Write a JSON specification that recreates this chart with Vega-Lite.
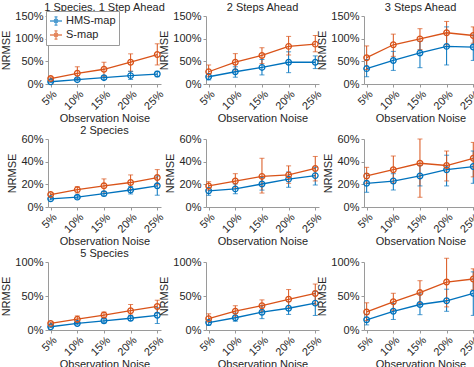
{
"$schema":"https://vega.github.io/schema/vega-lite/v6.json",
"padding":{"left":0,"top":2,"right":0,"bottom":0},
"bounds":"flush",
"spacing":{"row":55,"column":45},
"columns":3,
"data":{"values":[
{"p":"a","s":"HMS-map","n":5,"m":5,"lo":3.5,"hi":6.5},
{"p":"a","s":"HMS-map","n":10,"m":9.6,"lo":7,"hi":12.5},
{"p":"a","s":"HMS-map","n":15,"m":14,"lo":10,"hi":18},
{"p":"a","s":"HMS-map","n":20,"m":18.5,"lo":10,"hi":28},
{"p":"a","s":"HMS-map","n":25,"m":22,"lo":16,"hi":28},
{"p":"a","s":"S-map","n":5,"m":12,"lo":9,"hi":15},
{"p":"a","s":"S-map","n":10,"m":23.6,"lo":10,"hi":38},
{"p":"a","s":"S-map","n":15,"m":32.5,"lo":17,"hi":48},
{"p":"a","s":"S-map","n":20,"m":48,"lo":28,"hi":66.5},
{"p":"a","s":"S-map","n":25,"m":65,"lo":42,"hi":88.7},
{"p":"b","s":"HMS-map","n":5,"m":16,"lo":9,"hi":23},
{"p":"b","s":"HMS-map","n":10,"m":27,"lo":15,"hi":38},
{"p":"b","s":"HMS-map","n":15,"m":36.6,"lo":20,"hi":54},
{"p":"b","s":"HMS-map","n":20,"m":48,"lo":25,"hi":71},
{"p":"b","s":"HMS-map","n":25,"m":48,"lo":34,"hi":62},
{"p":"b","s":"S-map","n":5,"m":27,"lo":16,"hi":42},
{"p":"b","s":"S-map","n":10,"m":48,"lo":31,"hi":67},
{"p":"b","s":"S-map","n":15,"m":63,"lo":45,"hi":80},
{"p":"b","s":"S-map","n":20,"m":83,"lo":64,"hi":105},
{"p":"b","s":"S-map","n":25,"m":88,"lo":71,"hi":107},
{"p":"c","s":"HMS-map","n":5,"m":34,"lo":16,"hi":54},
{"p":"c","s":"HMS-map","n":10,"m":52,"lo":30,"hi":72},
{"p":"c","s":"HMS-map","n":15,"m":68.5,"lo":36,"hi":94},
{"p":"c","s":"HMS-map","n":20,"m":83,"lo":42,"hi":126},
{"p":"c","s":"HMS-map","n":25,"m":81.5,"lo":52,"hi":108},
{"p":"c","s":"S-map","n":5,"m":58,"lo":32,"hi":84},
{"p":"c","s":"S-map","n":10,"m":86.5,"lo":61,"hi":110},
{"p":"c","s":"S-map","n":15,"m":99.5,"lo":76,"hi":122},
{"p":"c","s":"S-map","n":20,"m":113,"lo":86.5,"hi":138},
{"p":"c","s":"S-map","n":25,"m":107,"lo":90,"hi":126},
{"p":"d","s":"HMS-map","n":5,"m":7.2,"lo":6.2,"hi":8.2},
{"p":"d","s":"HMS-map","n":10,"m":8.7,"lo":7.2,"hi":10.2},
{"p":"d","s":"HMS-map","n":15,"m":11.8,"lo":9.8,"hi":13.8},
{"p":"d","s":"HMS-map","n":20,"m":15,"lo":11.5,"hi":18},
{"p":"d","s":"HMS-map","n":25,"m":18.7,"lo":10.4,"hi":27.4},
{"p":"d","s":"S-map","n":5,"m":11,"lo":9.5,"hi":12.5},
{"p":"d","s":"S-map","n":10,"m":15.3,"lo":12.4,"hi":18},
{"p":"d","s":"S-map","n":15,"m":18.7,"lo":13.3,"hi":24.8},
{"p":"d","s":"S-map","n":20,"m":21.6,"lo":15.3,"hi":28.3},
{"p":"d","s":"S-map","n":25,"m":26,"lo":19.6,"hi":33},
{"p":"e","s":"HMS-map","n":5,"m":14.3,"lo":10.3,"hi":17},
{"p":"e","s":"HMS-map","n":10,"m":16,"lo":11.7,"hi":20.3},
{"p":"e","s":"HMS-map","n":15,"m":20.3,"lo":14.9,"hi":26},
{"p":"e","s":"HMS-map","n":20,"m":24.6,"lo":17.4,"hi":30.9},
{"p":"e","s":"HMS-map","n":25,"m":27.7,"lo":19.4,"hi":35},
{"p":"e","s":"S-map","n":5,"m":18.6,"lo":14.9,"hi":22.3},
{"p":"e","s":"S-map","n":10,"m":22.9,"lo":16.6,"hi":29.4},
{"p":"e","s":"S-map","n":15,"m":27,"lo":12.3,"hi":43},
{"p":"e","s":"S-map","n":20,"m":28.3,"lo":20.9,"hi":36.3},
{"p":"e","s":"S-map","n":25,"m":34,"lo":23,"hi":44.6},
{"p":"f","s":"HMS-map","n":5,"m":20.9,"lo":13,"hi":29.4},
{"p":"f","s":"HMS-map","n":10,"m":22.9,"lo":15,"hi":29.4},
{"p":"f","s":"HMS-map","n":15,"m":27.4,"lo":18.6,"hi":36.6},
{"p":"f","s":"HMS-map","n":20,"m":32.9,"lo":18.6,"hi":45.7},
{"p":"f","s":"HMS-map","n":25,"m":35.7,"lo":20.9,"hi":49.4},
{"p":"f","s":"S-map","n":5,"m":27.4,"lo":21,"hi":35},
{"p":"f","s":"S-map","n":10,"m":32.9,"lo":21,"hi":45},
{"p":"f","s":"S-map","n":15,"m":38.6,"lo":8.6,"hi":60},
{"p":"f","s":"S-map","n":20,"m":36.6,"lo":23,"hi":49.4},
{"p":"f","s":"S-map","n":25,"m":43,"lo":26.6,"hi":57},
{"p":"g","s":"HMS-map","n":5,"m":4.8,"lo":3.8,"hi":5.8},
{"p":"g","s":"HMS-map","n":10,"m":9.6,"lo":7.6,"hi":11.6},
{"p":"g","s":"HMS-map","n":15,"m":13.5,"lo":10.5,"hi":16.5},
{"p":"g","s":"HMS-map","n":20,"m":17.3,"lo":13.8,"hi":20.8},
{"p":"g","s":"HMS-map","n":25,"m":21.6,"lo":9.6,"hi":32.7},
{"p":"g","s":"S-map","n":5,"m":9.6,"lo":7.6,"hi":11.6},
{"p":"g","s":"S-map","n":10,"m":15.9,"lo":11,"hi":20.7},
{"p":"g","s":"S-map","n":15,"m":22,"lo":18.3,"hi":26.4},
{"p":"g","s":"S-map","n":20,"m":28.4,"lo":22,"hi":37.5},
{"p":"g","s":"S-map","n":25,"m":34.6,"lo":25.5,"hi":43.8},
{"p":"h","s":"HMS-map","n":5,"m":11,"lo":7.1,"hi":14.3},
{"p":"h","s":"HMS-map","n":10,"m":18,"lo":12.9,"hi":24.8},
{"p":"h","s":"HMS-map","n":15,"m":26.2,"lo":16.7,"hi":35.7},
{"p":"h","s":"HMS-map","n":20,"m":32,"lo":22.9,"hi":41.9},
{"p":"h","s":"HMS-map","n":25,"m":39.5,"lo":21.4,"hi":57},
{"p":"h","s":"S-map","n":5,"m":16.7,"lo":11.9,"hi":23.8},
{"p":"h","s":"S-map","n":10,"m":27.6,"lo":19,"hi":35.7},
{"p":"h","s":"S-map","n":15,"m":35.7,"lo":27.6,"hi":44.3},
{"p":"h","s":"S-map","n":20,"m":45.2,"lo":31.9,"hi":59.5},
{"p":"h","s":"S-map","n":25,"m":53.8,"lo":38,"hi":67.6},
{"p":"i","s":"HMS-map","n":5,"m":15,"lo":7.5,"hi":23},
{"p":"i","s":"HMS-map","n":10,"m":27.5,"lo":15.5,"hi":39},
{"p":"i","s":"HMS-map","n":15,"m":37.5,"lo":22.5,"hi":53},
{"p":"i","s":"HMS-map","n":20,"m":43,"lo":27.5,"hi":60},
{"p":"i","s":"HMS-map","n":25,"m":54,"lo":21.5,"hi":85.5},
{"p":"i","s":"S-map","n":5,"m":26.5,"lo":14,"hi":40},
{"p":"i","s":"S-map","n":10,"m":41.5,"lo":29,"hi":54},
{"p":"i","s":"S-map","n":15,"m":55,"lo":39,"hi":72.5},
{"p":"i","s":"S-map","n":20,"m":70.5,"lo":34,"hi":105.5},
{"p":"i","s":"S-map","n":25,"m":75,"lo":59,"hi":90}
]},
"concat":[
{"width":113,"height":68,"title":"1 Species, 1 Step Ahead","transform":[{"filter":"datum.p=='a'"}],
 "encoding":{"x":{"field":"n","type":"quantitative","scale":{"domain":[4.5,25.7]},"axis":{"values":[5,10,15,20,25],"labelExpr":"datum.value+'%'","labelAngle":-45,"title":"Observation Noise"}},
  "color":{"field":"s","type":"nominal","scale":{"domain":["HMS-map","S-map"],"range":["#0072BD","#D95319"]},"legend":{"orient":"none","legendX":-2,"legendY":-5,"title":null,"strokeColor":"#9a9a9a","fillColor":"white","padding":3,"rowPadding":0,"labelFontSize":11,"labelColor":"#262626","labelOffset":3,"symbolType":"M-1,0H-0.3M0.3,0H1M0,-0.7V-0.3M0,0.3V0.7M-0.25,-0.7H0.25M-0.25,0.7H0.25M0.3,0A0.3,0.3 0 1,1 -0.3,0A0.3,0.3 0 1,1 0.3,0","symbolSize":144,"symbolStrokeWidth":1.3}}},
 "layer":[
  {"mark":{"type":"rule","strokeWidth":1},"encoding":{"y":{"field":"lo","type":"quantitative","scale":{"domain":[0,150]},"axis":{"values":[0,50,100,150],"labelExpr":"datum.value+'%'"},"title":"NRMSE"},"y2":{"field":"hi"}}},
  {"mark":{"type":"tick","orient":"horizontal","size":5,"thickness":1},"encoding":{"y":{"field":"lo","type":"quantitative","scale":{"domain":[0,150]},"axis":{"values":[0,50,100,150],"labelExpr":"datum.value+'%'"},"title":"NRMSE"}}},
  {"mark":{"type":"tick","orient":"horizontal","size":5,"thickness":1},"encoding":{"y":{"field":"hi","type":"quantitative","scale":{"domain":[0,150]},"axis":{"values":[0,50,100,150],"labelExpr":"datum.value+'%'"},"title":"NRMSE"}}},
  {"mark":{"type":"line","strokeWidth":1.3},"encoding":{"y":{"field":"m","type":"quantitative","scale":{"domain":[0,150]},"axis":{"values":[0,50,100,150],"labelExpr":"datum.value+'%'"},"title":"NRMSE"}}},
  {"mark":{"type":"point","filled":false,"size":32,"strokeWidth":1.3,"opacity":1},"encoding":{"y":{"field":"m","type":"quantitative","scale":{"domain":[0,150]},"axis":{"values":[0,50,100,150],"labelExpr":"datum.value+'%'"},"title":"NRMSE"}}}
 ]},
{"width":113,"height":68,"title":"2 Steps Ahead","transform":[{"filter":"datum.p=='b'"}],
 "encoding":{"x":{"field":"n","type":"quantitative","scale":{"domain":[4.5,25.7]},"axis":{"values":[5,10,15,20,25],"labelExpr":"datum.value+'%'","labelAngle":-45,"title":"Observation Noise"}},
  "color":{"field":"s","type":"nominal"}},
 "layer":[
  {"mark":{"type":"rule","strokeWidth":1},"encoding":{"y":{"field":"lo","type":"quantitative","scale":{"domain":[0,150]},"axis":{"values":[0,50,100,150],"labelExpr":"datum.value+'%'"},"title":"NRMSE"},"y2":{"field":"hi"}}},
  {"mark":{"type":"tick","orient":"horizontal","size":5,"thickness":1},"encoding":{"y":{"field":"lo","type":"quantitative","scale":{"domain":[0,150]},"axis":{"values":[0,50,100,150],"labelExpr":"datum.value+'%'"},"title":"NRMSE"}}},
  {"mark":{"type":"tick","orient":"horizontal","size":5,"thickness":1},"encoding":{"y":{"field":"hi","type":"quantitative","scale":{"domain":[0,150]},"axis":{"values":[0,50,100,150],"labelExpr":"datum.value+'%'"},"title":"NRMSE"}}},
  {"mark":{"type":"line","strokeWidth":1.3},"encoding":{"y":{"field":"m","type":"quantitative","scale":{"domain":[0,150]},"axis":{"values":[0,50,100,150],"labelExpr":"datum.value+'%'"},"title":"NRMSE"}}},
  {"mark":{"type":"point","filled":false,"size":32,"strokeWidth":1.3,"opacity":1},"encoding":{"y":{"field":"m","type":"quantitative","scale":{"domain":[0,150]},"axis":{"values":[0,50,100,150],"labelExpr":"datum.value+'%'"},"title":"NRMSE"}}}
 ]},
{"width":113,"height":68,"title":"3 Steps Ahead","transform":[{"filter":"datum.p=='c'"}],
 "encoding":{"x":{"field":"n","type":"quantitative","scale":{"domain":[4.5,25.7]},"axis":{"values":[5,10,15,20,25],"labelExpr":"datum.value+'%'","labelAngle":-45,"title":"Observation Noise"}},
  "color":{"field":"s","type":"nominal"}},
 "layer":[
  {"mark":{"type":"rule","strokeWidth":1},"encoding":{"y":{"field":"lo","type":"quantitative","scale":{"domain":[0,150]},"axis":{"values":[0,50,100,150],"labelExpr":"datum.value+'%'"},"title":"NRMSE"},"y2":{"field":"hi"}}},
  {"mark":{"type":"tick","orient":"horizontal","size":5,"thickness":1},"encoding":{"y":{"field":"lo","type":"quantitative","scale":{"domain":[0,150]},"axis":{"values":[0,50,100,150],"labelExpr":"datum.value+'%'"},"title":"NRMSE"}}},
  {"mark":{"type":"tick","orient":"horizontal","size":5,"thickness":1},"encoding":{"y":{"field":"hi","type":"quantitative","scale":{"domain":[0,150]},"axis":{"values":[0,50,100,150],"labelExpr":"datum.value+'%'"},"title":"NRMSE"}}},
  {"mark":{"type":"line","strokeWidth":1.3},"encoding":{"y":{"field":"m","type":"quantitative","scale":{"domain":[0,150]},"axis":{"values":[0,50,100,150],"labelExpr":"datum.value+'%'"},"title":"NRMSE"}}},
  {"mark":{"type":"point","filled":false,"size":32,"strokeWidth":1.3,"opacity":1},"encoding":{"y":{"field":"m","type":"quantitative","scale":{"domain":[0,150]},"axis":{"values":[0,50,100,150],"labelExpr":"datum.value+'%'"},"title":"NRMSE"}}}
 ]},
{"width":113,"height":68,"title":"2 Species","transform":[{"filter":"datum.p=='d'"}],
 "encoding":{"x":{"field":"n","type":"quantitative","scale":{"domain":[4.5,25.7]},"axis":{"values":[5,10,15,20,25],"labelExpr":"datum.value+'%'","labelAngle":-45,"title":"Observation Noise"}},
  "color":{"field":"s","type":"nominal"}},
 "layer":[
  {"mark":{"type":"rule","strokeWidth":1},"encoding":{"y":{"field":"lo","type":"quantitative","scale":{"domain":[0,60]},"axis":{"values":[0,20,40,60],"labelExpr":"datum.value+'%'"},"title":"NRMSE"},"y2":{"field":"hi"}}},
  {"mark":{"type":"tick","orient":"horizontal","size":5,"thickness":1},"encoding":{"y":{"field":"lo","type":"quantitative","scale":{"domain":[0,60]},"axis":{"values":[0,20,40,60],"labelExpr":"datum.value+'%'"},"title":"NRMSE"}}},
  {"mark":{"type":"tick","orient":"horizontal","size":5,"thickness":1},"encoding":{"y":{"field":"hi","type":"quantitative","scale":{"domain":[0,60]},"axis":{"values":[0,20,40,60],"labelExpr":"datum.value+'%'"},"title":"NRMSE"}}},
  {"mark":{"type":"line","strokeWidth":1.3},"encoding":{"y":{"field":"m","type":"quantitative","scale":{"domain":[0,60]},"axis":{"values":[0,20,40,60],"labelExpr":"datum.value+'%'"},"title":"NRMSE"}}},
  {"mark":{"type":"point","filled":false,"size":32,"strokeWidth":1.3,"opacity":1},"encoding":{"y":{"field":"m","type":"quantitative","scale":{"domain":[0,60]},"axis":{"values":[0,20,40,60],"labelExpr":"datum.value+'%'"},"title":"NRMSE"}}}
 ]},
{"width":113,"height":68,"transform":[{"filter":"datum.p=='e'"}],
 "encoding":{"x":{"field":"n","type":"quantitative","scale":{"domain":[4.5,25.7]},"axis":{"values":[5,10,15,20,25],"labelExpr":"datum.value+'%'","labelAngle":-45,"title":"Observation Noise"}},
  "color":{"field":"s","type":"nominal"}},
 "layer":[
  {"mark":{"type":"rule","strokeWidth":1},"encoding":{"y":{"field":"lo","type":"quantitative","scale":{"domain":[0,60]},"axis":{"values":[0,20,40,60],"labelExpr":"datum.value+'%'"},"title":"NRMSE"},"y2":{"field":"hi"}}},
  {"mark":{"type":"tick","orient":"horizontal","size":5,"thickness":1},"encoding":{"y":{"field":"lo","type":"quantitative","scale":{"domain":[0,60]},"axis":{"values":[0,20,40,60],"labelExpr":"datum.value+'%'"},"title":"NRMSE"}}},
  {"mark":{"type":"tick","orient":"horizontal","size":5,"thickness":1},"encoding":{"y":{"field":"hi","type":"quantitative","scale":{"domain":[0,60]},"axis":{"values":[0,20,40,60],"labelExpr":"datum.value+'%'"},"title":"NRMSE"}}},
  {"mark":{"type":"line","strokeWidth":1.3},"encoding":{"y":{"field":"m","type":"quantitative","scale":{"domain":[0,60]},"axis":{"values":[0,20,40,60],"labelExpr":"datum.value+'%'"},"title":"NRMSE"}}},
  {"mark":{"type":"point","filled":false,"size":32,"strokeWidth":1.3,"opacity":1},"encoding":{"y":{"field":"m","type":"quantitative","scale":{"domain":[0,60]},"axis":{"values":[0,20,40,60],"labelExpr":"datum.value+'%'"},"title":"NRMSE"}}}
 ]},
{"width":113,"height":68,"transform":[{"filter":"datum.p=='f'"}],
 "encoding":{"x":{"field":"n","type":"quantitative","scale":{"domain":[4.5,25.7]},"axis":{"values":[5,10,15,20,25],"labelExpr":"datum.value+'%'","labelAngle":-45,"title":"Observation Noise"}},
  "color":{"field":"s","type":"nominal"}},
 "layer":[
  {"mark":{"type":"rule","strokeWidth":1},"encoding":{"y":{"field":"lo","type":"quantitative","scale":{"domain":[0,60]},"axis":{"values":[0,20,40,60],"labelExpr":"datum.value+'%'"},"title":"NRMSE"},"y2":{"field":"hi"}}},
  {"mark":{"type":"tick","orient":"horizontal","size":5,"thickness":1},"encoding":{"y":{"field":"lo","type":"quantitative","scale":{"domain":[0,60]},"axis":{"values":[0,20,40,60],"labelExpr":"datum.value+'%'"},"title":"NRMSE"}}},
  {"mark":{"type":"tick","orient":"horizontal","size":5,"thickness":1},"encoding":{"y":{"field":"hi","type":"quantitative","scale":{"domain":[0,60]},"axis":{"values":[0,20,40,60],"labelExpr":"datum.value+'%'"},"title":"NRMSE"}}},
  {"mark":{"type":"line","strokeWidth":1.3},"encoding":{"y":{"field":"m","type":"quantitative","scale":{"domain":[0,60]},"axis":{"values":[0,20,40,60],"labelExpr":"datum.value+'%'"},"title":"NRMSE"}}},
  {"mark":{"type":"point","filled":false,"size":32,"strokeWidth":1.3,"opacity":1},"encoding":{"y":{"field":"m","type":"quantitative","scale":{"domain":[0,60]},"axis":{"values":[0,20,40,60],"labelExpr":"datum.value+'%'"},"title":"NRMSE"}}}
 ]},
{"width":113,"height":68,"title":"5 Species","transform":[{"filter":"datum.p=='g'"}],
 "encoding":{"x":{"field":"n","type":"quantitative","scale":{"domain":[4.5,25.7]},"axis":{"values":[5,10,15,20,25],"labelExpr":"datum.value+'%'","labelAngle":-45,"title":"Observation Noise"}},
  "color":{"field":"s","type":"nominal"}},
 "layer":[
  {"mark":{"type":"rule","strokeWidth":1},"encoding":{"y":{"field":"lo","type":"quantitative","scale":{"domain":[0,100]},"axis":{"values":[0,50,100],"labelExpr":"datum.value+'%'"},"title":"NRMSE"},"y2":{"field":"hi"}}},
  {"mark":{"type":"tick","orient":"horizontal","size":5,"thickness":1},"encoding":{"y":{"field":"lo","type":"quantitative","scale":{"domain":[0,100]},"axis":{"values":[0,50,100],"labelExpr":"datum.value+'%'"},"title":"NRMSE"}}},
  {"mark":{"type":"tick","orient":"horizontal","size":5,"thickness":1},"encoding":{"y":{"field":"hi","type":"quantitative","scale":{"domain":[0,100]},"axis":{"values":[0,50,100],"labelExpr":"datum.value+'%'"},"title":"NRMSE"}}},
  {"mark":{"type":"line","strokeWidth":1.3},"encoding":{"y":{"field":"m","type":"quantitative","scale":{"domain":[0,100]},"axis":{"values":[0,50,100],"labelExpr":"datum.value+'%'"},"title":"NRMSE"}}},
  {"mark":{"type":"point","filled":false,"size":32,"strokeWidth":1.3,"opacity":1},"encoding":{"y":{"field":"m","type":"quantitative","scale":{"domain":[0,100]},"axis":{"values":[0,50,100],"labelExpr":"datum.value+'%'"},"title":"NRMSE"}}}
 ]},
{"width":113,"height":68,"transform":[{"filter":"datum.p=='h'"}],
 "encoding":{"x":{"field":"n","type":"quantitative","scale":{"domain":[4.5,25.7]},"axis":{"values":[5,10,15,20,25],"labelExpr":"datum.value+'%'","labelAngle":-45,"title":"Observation Noise"}},
  "color":{"field":"s","type":"nominal"}},
 "layer":[
  {"mark":{"type":"rule","strokeWidth":1},"encoding":{"y":{"field":"lo","type":"quantitative","scale":{"domain":[0,100]},"axis":{"values":[0,50,100],"labelExpr":"datum.value+'%'"},"title":"NRMSE"},"y2":{"field":"hi"}}},
  {"mark":{"type":"tick","orient":"horizontal","size":5,"thickness":1},"encoding":{"y":{"field":"lo","type":"quantitative","scale":{"domain":[0,100]},"axis":{"values":[0,50,100],"labelExpr":"datum.value+'%'"},"title":"NRMSE"}}},
  {"mark":{"type":"tick","orient":"horizontal","size":5,"thickness":1},"encoding":{"y":{"field":"hi","type":"quantitative","scale":{"domain":[0,100]},"axis":{"values":[0,50,100],"labelExpr":"datum.value+'%'"},"title":"NRMSE"}}},
  {"mark":{"type":"line","strokeWidth":1.3},"encoding":{"y":{"field":"m","type":"quantitative","scale":{"domain":[0,100]},"axis":{"values":[0,50,100],"labelExpr":"datum.value+'%'"},"title":"NRMSE"}}},
  {"mark":{"type":"point","filled":false,"size":32,"strokeWidth":1.3,"opacity":1},"encoding":{"y":{"field":"m","type":"quantitative","scale":{"domain":[0,100]},"axis":{"values":[0,50,100],"labelExpr":"datum.value+'%'"},"title":"NRMSE"}}}
 ]},
{"width":113,"height":68,"transform":[{"filter":"datum.p=='i'"}],
 "encoding":{"x":{"field":"n","type":"quantitative","scale":{"domain":[4.5,25.7]},"axis":{"values":[5,10,15,20,25],"labelExpr":"datum.value+'%'","labelAngle":-45,"title":"Observation Noise"}},
  "color":{"field":"s","type":"nominal"}},
 "layer":[
  {"mark":{"type":"rule","strokeWidth":1},"encoding":{"y":{"field":"lo","type":"quantitative","scale":{"domain":[0,100]},"axis":{"values":[0,50,100],"labelExpr":"datum.value+'%'"},"title":"NRMSE"},"y2":{"field":"hi"}}},
  {"mark":{"type":"tick","orient":"horizontal","size":5,"thickness":1},"encoding":{"y":{"field":"lo","type":"quantitative","scale":{"domain":[0,100]},"axis":{"values":[0,50,100],"labelExpr":"datum.value+'%'"},"title":"NRMSE"}}},
  {"mark":{"type":"tick","orient":"horizontal","size":5,"thickness":1},"encoding":{"y":{"field":"hi","type":"quantitative","scale":{"domain":[0,100]},"axis":{"values":[0,50,100],"labelExpr":"datum.value+'%'"},"title":"NRMSE"}}},
  {"mark":{"type":"line","strokeWidth":1.3},"encoding":{"y":{"field":"m","type":"quantitative","scale":{"domain":[0,100]},"axis":{"values":[0,50,100],"labelExpr":"datum.value+'%'"},"title":"NRMSE"}}},
  {"mark":{"type":"point","filled":false,"size":32,"strokeWidth":1.3,"opacity":1},"encoding":{"y":{"field":"m","type":"quantitative","scale":{"domain":[0,100]},"axis":{"values":[0,50,100],"labelExpr":"datum.value+'%'"},"title":"NRMSE"}}}
 ]}
],
"config":{
 "view":{"stroke":null},
 "font":"Liberation Sans",
 "background":"white",
 "axis":{"labelFontSize":11,"titleFontSize":11,"titleFontWeight":"normal","labelColor":"#262626","titleColor":"#262626","domainColor":"#9a9a9a","tickColor":"#9a9a9a","grid":false,"tickSize":3,"labelPadding":1,"titlePadding":1,"labelFlush":false,"labelOverlap":false},
 "axisY":{"labelPadding":2,"titlePadding":3},
 "title":{"fontSize":11,"fontWeight":"normal","color":"#262626","offset":-3,"anchor":"middle"},
 "legend":{"labelFont":"Liberation Sans"}
}
}
